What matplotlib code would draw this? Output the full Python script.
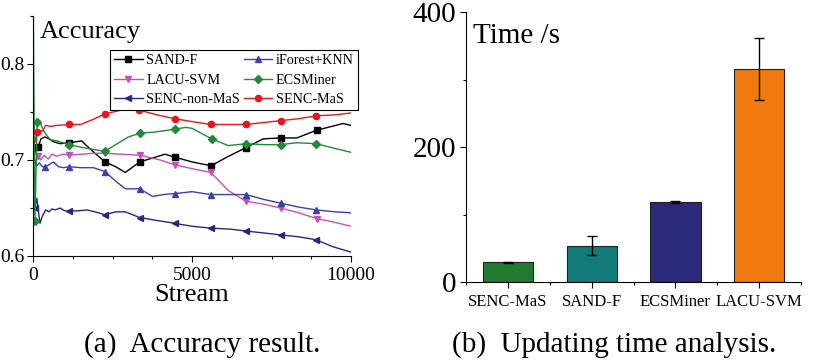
import numpy as np
import matplotlib
matplotlib.use("Agg")
import matplotlib.pyplot as plt
from matplotlib.ticker import MultipleLocator

plt.rcParams['font.family'] = ['Liberation Serif', 'DejaVu Serif']

# ---- (a) accuracy curves: x, y and where the markers sit ----
sencmas_x = [60, 120, 200, 300, 400, 550, 750, 1140, 1500, 1870, 2260, 2650, 3000, 3340, 3900, 4460,
             5000, 5590, 6100, 6700, 7250, 7790, 8350, 8900, 9500, 10000]
sencmas_y = [0.718, 0.729, 0.731, 0.730, 0.736, 0.735, 0.736, 0.737, 0.737, 0.742, 0.748, 0.751, 0.754,
             0.752, 0.747, 0.743, 0.740, 0.737, 0.737, 0.737, 0.739, 0.741, 0.743, 0.746, 0.747, 0.749]
sencmas_m = [120, 1140, 2260, 3340, 4460, 5590, 6700, 7790, 8900]

sandf_x = [30, 100, 170, 250, 380, 500, 650, 850, 1140, 1350, 1530, 1650, 1950, 2260, 2600, 2900, 3150,
           3360, 3750, 4150, 4460, 5000, 5600, 6100, 6700, 7240, 7790, 8300, 8920, 9750, 10000]
sandf_y = [0.705, 0.712, 0.714, 0.722, 0.724, 0.722, 0.719, 0.717, 0.718, 0.719, 0.720, 0.716, 0.707,
           0.698, 0.693, 0.687, 0.693, 0.698, 0.702, 0.706, 0.703, 0.698, 0.694, 0.703, 0.713, 0.722,
           0.723, 0.723, 0.731, 0.738, 0.736]
sandf_m = [170, 1140, 2260, 3360, 4460, 5600, 6700, 7790, 8920]

ecs_x = [0, 60, 130, 200, 300, 420, 550, 750, 1140, 1550, 1900, 2260, 2600, 3000, 3360, 3800, 4460,
         4800, 5000, 5620, 6140, 6700, 7250, 7790, 8300, 8900, 9500, 10000]
ecs_y = [0.90, 0.636, 0.740, 0.741, 0.733, 0.726, 0.721, 0.720, 0.716, 0.713, 0.711, 0.709, 0.716,
         0.724, 0.728, 0.729, 0.732, 0.734, 0.733, 0.722, 0.715, 0.717, 0.716, 0.716, 0.718, 0.717,
         0.712, 0.708]
ecs_m = [60, 130, 1140, 2260, 3360, 4460, 5620, 6700, 7790, 8900]

lacu_x = [0, 30, 80, 170, 250, 350, 480, 600, 750, 950, 1140, 1500, 1900, 2260, 2800, 3360, 4000,
          4460, 5000, 5590, 6150, 6700, 7250, 7790, 8350, 8920, 9500, 10000]
lacu_y = [0.600, 0.700, 0.697, 0.704, 0.700, 0.705, 0.701, 0.706, 0.704, 0.706, 0.705, 0.706, 0.707,
          0.707, 0.706, 0.705, 0.700, 0.695, 0.691, 0.687, 0.668, 0.657, 0.654, 0.650, 0.645, 0.639,
          0.635, 0.631]
lacu_m = [170, 1140, 2260, 3360, 4460, 5590, 6700, 7790, 8920]

ifor_x = [20, 60, 120, 200, 300, 380, 500, 650, 800, 950, 1140, 1500, 1900, 2260, 2600, 2900, 3360,
          3760, 4100, 4460, 5000, 5590, 6100, 6700, 7250, 7790, 8350, 8900, 9500, 10000]
ifor_y = [0.670, 0.700, 0.694, 0.697, 0.693, 0.693, 0.695, 0.698, 0.693, 0.692, 0.693, 0.692, 0.692,
          0.688, 0.678, 0.670, 0.670, 0.662, 0.664, 0.665, 0.667, 0.664, 0.664, 0.664, 0.659, 0.655,
          0.651, 0.648, 0.646, 0.645]
ifor_m = [380, 1140, 2260, 3360, 4460, 5590, 6700, 7790, 8900]

nonmas_x = [0, 60, 120, 220, 300, 400, 500, 600, 700, 850, 1000, 1140, 1400, 1700, 1950, 2260, 2600,
            2900, 3360, 3900, 4460, 5000, 5590, 6200, 6700, 7250, 7790, 8350, 8900, 9400, 10000]
nonmas_y = [0.668, 0.650, 0.660, 0.634, 0.642, 0.648, 0.646, 0.649, 0.648, 0.650, 0.647, 0.647, 0.647,
            0.648, 0.646, 0.643, 0.646, 0.646, 0.640, 0.637, 0.634, 0.631, 0.629, 0.628, 0.626, 0.624,
            0.622, 0.620, 0.617, 0.610, 0.604]
nonmas_m = [60, 1140, 2260, 3360, 4460, 5590, 6700, 7790, 8900]

# ---- (b) updating time ----
methods = ['SENC-MaS', 'SAND-F', 'ECSMiner', 'LACU-SVM']
times = [29, 54, 118, 315]
time_err = [1, 13.5, 1.5, 46]
bar_colors = ['#217A30', '#127C7A', '#2B2A7A', '#F07A10']

fig = plt.figure(figsize=(8.17, 3.6), dpi=100)

ax1 = fig.add_axes([33/817, 1-256/360, 318/817, 240/360])
series = [
    ('SAND-F', sandf_x, sandf_y, sandf_m, 'black', 's'),
    ('LACU-SVM', lacu_x, lacu_y, lacu_m, '#C94FB5', 'v'),
    ('SENC-non-MaS', nonmas_x, nonmas_y, nonmas_m, '#28287E', '<'),
    ('iForest+KNN', ifor_x, ifor_y, ifor_m, '#3B40AA', '^'),
    ('ECSMiner', ecs_x, ecs_y, ecs_m, '#24883A', 'D'),
    ('SENC-MaS', sencmas_x, sencmas_y, sencmas_m, '#E8161C', 'o'),
]
for name, xs, ys, ms, col, mk in series:
    xs = np.array(xs)
    idx = list(np.where(np.isin(xs, ms))[0])
    ax1.plot(xs, ys, color=col, lw=1.0, marker=mk, markevery=idx,
             markersize=4.5 if mk != 'D' else 3.8, label=name)

ax1.set_xlim(0, 10000)
ax1.set_ylim(0.6, 0.85)
ax1.set_xticks([0, 5000, 10000])
ax1.set_yticks([0.6, 0.7, 0.8])
ax1.set_yticklabels(['0.6', '0.7', '0.8'])
ax1.xaxis.set_minor_locator(MultipleLocator(1250))
ax1.yaxis.set_minor_locator(MultipleLocator(0.05))
ax1.tick_params(which='major', direction='out', length=4, width=0.8, labelsize=14)
ax1.tick_params(axis='x', which='major', pad=4)
ax1.tick_params(axis='y', which='major', pad=2)
ax1.tick_params(which='minor', direction='out', length=2.5, width=0.8)
for s in ['top', 'right']:
    ax1.spines[s].set_visible(False)
ax1.set_xlabel('Stream', fontsize=19, labelpad=0)
ax1.text(0.02, 0.98, 'Accuracy', transform=ax1.transAxes, fontsize=19, va='top', ha='left')
leg = ax1.legend(ncol=2, loc='upper left', bbox_to_anchor=(110/817, 1-50/360),
                 bbox_transform=fig.transFigure, borderaxespad=0, fontsize=10.2,
                 handlelength=2.0, handletextpad=0.25, columnspacing=0.3, labelspacing=0.45,
                 borderpad=0.3, fancybox=False, framealpha=1, edgecolor='black')
leg.get_frame().set_linewidth(0.8)

ax2 = fig.add_axes([466/817, 1-282/360, 335/817, 270/360])
pos = np.arange(1, len(methods) + 1)
ax2.bar(pos, times, width=0.6, color=bar_colors, edgecolor='#202020', linewidth=0.8,
        yerr=time_err, capsize=3.5, error_kw=dict(elinewidth=1.0, capthick=1.0, ecolor='black'))
ax2.set_xlim(0.5, 4.5)
ax2.set_ylim(0, 400)
ax2.set_xticks(pos)
ax2.set_xticklabels(methods, fontsize=12)
ax2.set_yticks([0, 200, 400])
ax2.xaxis.set_minor_locator(MultipleLocator(0.5))
ax2.yaxis.set_minor_locator(MultipleLocator(100))
ax2.tick_params(axis='y', which='major', labelsize=21, pad=3)
ax2.tick_params(axis='x', which='major', pad=5)
ax2.tick_params(which='major', direction='out', length=4, width=0.8)
ax2.tick_params(which='minor', direction='out', length=2.5, width=0.8)
for s in ['top', 'right']:
    ax2.spines[s].set_visible(False)
ax2.text(0.02, 0.96, 'Time /s', transform=ax2.transAxes, fontsize=21, va='top', ha='left')

fig.text(202/817, 15/360, '(a)  Accuracy result.', fontsize=21, ha='center', va='center')
fig.text(614/817, 15/360, '(b)  Updating time analysis.', fontsize=21, ha='center', va='center')

fig.savefig('out.png', dpi=100)
